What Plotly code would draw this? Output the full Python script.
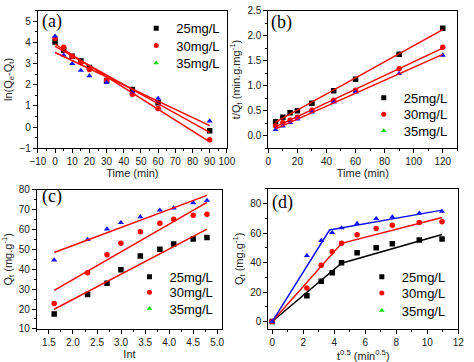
import numpy as np
import plotly.graph_objects as go

# ---------------- data ----------------
series_names = ["25mg/L", "30mg/L", "35mg/L"]

# (a) pseudo-first-order
time_a = [0, 5, 10, 15, 20, 30, 45, 60, 90]
lnq_25 = [4.02, 3.65, 3.35, 3.12, 2.82, 2.20, 1.78, 1.15, -0.18]
lnq_30 = [4.20, 3.78, 3.35, 3.05, 2.72, 2.20, 1.55, 0.88, -0.60]
lnq_35 = [4.30, 3.40, 3.00, 2.68, 2.42, 2.10, 1.65, 1.35, 0.28]

# (b) pseudo-second-order
time_b = [5, 10, 15, 20, 30, 45, 60, 90, 120]
tq_25 = [0.28, 0.37, 0.46, 0.50, 0.65, 0.90, 1.13, 1.63, 2.15]
tq_30 = [0.20, 0.26, 0.31, 0.37, 0.51, 0.71, 0.91, 1.34, 1.77]
tq_35 = [0.12, 0.19, 0.26, 0.33, 0.47, 0.67, 0.87, 1.24, 1.61]

# (c) Elovich
lnt_c = [1.609, 2.303, 2.708, 2.996, 3.401, 3.807, 4.094, 4.500, 4.787]
qt_25 = [17.5, 27.3, 33.0, 39.8, 46.7, 50.0, 52.7, 55.2, 56.0]
qt_30 = [22.8, 38.2, 47.3, 53.1, 58.8, 63.1, 65.2, 67.1, 67.6]
qt_35 = [44.6, 54.9, 60.2, 63.4, 66.4, 69.7, 70.8, 73.4, 74.6]

# (d) intraparticle diffusion
sqrt_t_d = [0, 2.236, 3.162, 3.873, 4.472, 5.477, 6.708, 7.746, 9.487, 10.954]
qd_25 = [0, 17.5, 27.3, 33.0, 39.8, 46.7, 50.0, 52.7, 55.2, 56.0]
qd_30 = [0, 22.8, 38.2, 47.3, 53.1, 58.8, 63.1, 65.2, 67.1, 67.6]
qd_35 = [0, 44.6, 54.9, 60.2, 63.4, 66.4, 69.7, 70.8, 73.4, 74.6]
# piecewise fit lines (vertices)
segx_25 = [0, 4.472, 10.954]
segy_25 = [0, 39.5, 59.0]
segx_30 = [0, 4.472, 10.954]
segy_30 = [0, 53.0, 70.5]
segx_35 = [0, 3.70, 10.954]
segy_35 = [0, 62.0, 75.5]

# ---------------- styling ----------------
BLACK, RED, BLUE, GREEN = "#000000", "#ff0000", "#1010ff", "#00dd00"
markers = [("square", BLACK), ("circle", RED), ("triangle-up", BLUE)]
leg_markers = [("square", BLACK), ("circle", RED), ("triangle-up", GREEN)]
FONT = "Arial, Liberation Sans, sans-serif"
W, H = 474, 362

# legend placement per panel: symbol centre x, row centres y (pixels)
legend_pos = [
    (153, [23, 41, 59]),
    (389, [95, 112, 129]),
    (146, [280, 296, 313]),
    (387, [280, 297, 315]),
]

fig = go.Figure()

panels = [
    ("x", "y", time_a, [lnq_25, lnq_30, lnq_35]),
    ("x2", "y2", time_b, [tq_25, tq_30, tq_35]),
    ("x3", "y3", lnt_c, [qt_25, qt_30, qt_35]),
    ("x4", "y4", sqrt_t_d, [qd_25, qd_30, qd_35]),
]

legend_layouts = {}
leg_idx = 0
for pi, (xa, ya, xs, ys_list) in enumerate(panels):
    for si, ys in enumerate(ys_list):
        sym, col = markers[si]
        fig.add_trace(go.Scatter(x=xs, y=ys, mode="markers", xaxis=xa, yaxis=ya,
                                 marker=dict(symbol=sym, color=col, size=5.5),
                                 showlegend=False, hoverinfo="skip"))
    # fit lines
    if pi < 3:
        x_arr = np.array(xs, dtype=float)
        for ys in ys_list:
            k, b = np.polyfit(x_arr, np.array(ys, dtype=float), 1)
            xl = [x_arr.min(), x_arr.max()]
            fig.add_trace(go.Scatter(x=xl, y=[k * v + b for v in xl], mode="lines",
                                     xaxis=xa, yaxis=ya, line=dict(color=RED, width=1.5),
                                     showlegend=False, hoverinfo="skip"))
    else:
        for sx, sy, col in [(segx_25, segy_25, BLACK), (segx_30, segy_30, RED), (segx_35, segy_35, BLUE)]:
            fig.add_trace(go.Scatter(x=sx, y=sy, mode="lines", xaxis=xa, yaxis=ya,
                                     line=dict(color=col, width=1.5),
                                     showlegend=False, hoverinfo="skip"))
    # legend entries: one legend per entry for exact row spacing
    sx_px, rows = legend_pos[pi]
    for si, name in enumerate(series_names):
        leg_idx += 1
        leg_name = "legend" if leg_idx == 1 else f"legend{leg_idx}"
        sym, col = leg_markers[si]
        fig.add_trace(go.Scatter(x=[None], y=[None], mode="markers", xaxis=xa, yaxis=ya,
                                 marker=dict(symbol=sym, color=col, size=5),
                                 name=name, legend=leg_name, showlegend=True))
        legend_layouts[leg_name] = dict(
            x=(sx_px - 20) / W, y=1 - rows[si] / H, xanchor="left", yanchor="middle",
            bgcolor="rgba(0,0,0,0)", borderwidth=0,
            font=dict(family=FONT, size=13, color="black"), itemwidth=30)

def dx(a, b):
    return [a / W, b / W]
def dy(top, bot):
    return [1 - bot / H, 1 - top / H]

axis_common = dict(showline=True, linecolor="black", linewidth=1, mirror=True,
                   ticks="outside", ticklen=4, tickwidth=1, tickcolor="black",
                   showgrid=False, zeroline=False,
                   tickfont=dict(family=FONT, size=10, color="#222"),
                   title_font=dict(family=FONT, size=11, color="#222"),
                   minor=dict(ticks="outside", ticklen=2, tickcolor="black"))

fig.update_layout(
    width=W, height=H, margin=dict(l=0, r=0, t=0, b=0),
    paper_bgcolor="white", plot_bgcolor="white",
    font=dict(family=FONT, color="black"),
    xaxis=dict(domain=dx(31, 227), range=[-10, 100], dtick=10, anchor="y",
               title=dict(text="Time (min)", standoff=2), minor_dtick=5, **axis_common),
    yaxis=dict(domain=dy(5, 147), range=[-1, 5.5], dtick=1, anchor="x",
               title=dict(text="ln(Q<sub>e</sub>-Q<sub>t</sub>)", standoff=4), minor_dtick=0.5, **axis_common),
    xaxis2=dict(domain=dx(270, 466), range=[0, 130], dtick=20, anchor="y2",
                title=dict(text="Time (min)", standoff=2), minor_dtick=10, **axis_common),
    yaxis2=dict(domain=dy(5, 147), range=[-0.25, 2.5], dtick=0.5, tickformat=".1f", anchor="x2",
                title=dict(text="t/Q<sub>t</sub> (min.g.mg<sup>-1</sup>)", standoff=4), minor_dtick=0.25, **axis_common),
    xaxis3=dict(domain=dx(30, 222), range=[1.25, 5.1], dtick=0.5, tickformat=".1f", anchor="y3",
                title=dict(text="Int", standoff=2), minor_dtick=0.25, **axis_common),
    yaxis3=dict(domain=dy(190, 334), range=[10, 80], dtick=10, anchor="x3",
                title=dict(text="Q<sub>t</sub> (mg.g<sup>-1</sup>)", standoff=4), minor_dtick=5, **axis_common),
    xaxis4=dict(domain=dx(270, 467), range=[-0.25, 12], dtick=2, anchor="y4",
                title=dict(text="t<sup>0.5</sup> (min<sup>0.5</sup>)", standoff=2), minor_dtick=1, **axis_common),
    yaxis4=dict(domain=dy(189, 334), range=[-5, 90], dtick=20, anchor="x4",
                title=dict(text="Q<sub>t</sub> (mg.g<sup>-1</sup>)", standoff=4), minor_dtick=10, **axis_common),
    **legend_layouts,
)

labels = [("(a)", 33, 16), ("(b)", 271, 17), ("(c)", 33, 197), ("(d)", 272, 203)]
for txt, xp, yp in labels:
    fig.add_annotation(text=txt, x=xp / W, y=1 - yp / H, xref="paper", yref="paper",
                       xanchor="left", yanchor="middle", showarrow=False,
                       font=dict(family="Liberation Serif, Times New Roman, serif", size=18, color="black"))

fig.write_html("out.html", config={"displayModeBar": False},
               post_script="document.body.style.margin='0';document.body.style.padding='0';"
                           "document.documentElement.style.overflow='hidden';")
